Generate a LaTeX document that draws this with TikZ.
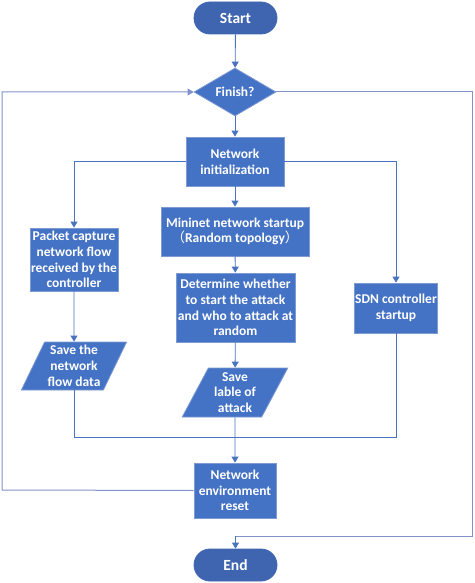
\documentclass[tikz,border=0pt]{standalone}
\usepackage{fontspec}
\setmainfont{Carlito}[BoldFont={Carlito Bold}]
\newfontfamily\cjk{Noto Sans CJK SC}
\usetikzlibrary{shapes.geometric,arrows.meta}
\definecolor{boxblue}{HTML}{4472C4}
\definecolor{pillblue}{HTML}{3F65B1}
\definecolor{edgeblue}{HTML}{7D9AD3}
\definecolor{lineblue}{HTML}{4A73BF}
\definecolor{loopblue}{HTML}{7F92CC}
\tikzset{
  base/.style={fill=boxblue, draw=edgeblue, line width=0.8pt, text=white,
    font=\bfseries\fontsize{13.5}{15.7}\selectfont, align=center, inner sep=1pt},
  procbox/.style={base, rectangle},
  pill/.style={base, fill=pillblue, draw=pillblue, rounded corners=16pt,
    minimum width=83, minimum height=32, font=\bfseries\fontsize{15.5}{17}\selectfont},
  decis/.style={base, diamond, aspect=1.7, minimum width=82, minimum height=48, inner sep=0pt},
  datab/.style={base, trapezium, trapezium left angle=63, trapezium right angle=117,
    trapezium stretches=true, inner sep=0pt},
  conn/.style={draw=lineblue, line width=0.9pt},
  arr/.style={conn, -{Triangle[length=6pt,width=7pt]}},
  loopline/.style={draw=loopblue, line width=1pt},
}
\begin{document}
\begin{tikzpicture}[x=1pt,y=-1pt]
\useasboundingbox (0,0) rectangle (474,583);
\node[pill] (start) at (235.5,18) {Start};
\node[decis] (finish) at (235,92) {Finish?};
\node[procbox, minimum width=98, minimum height=49] (ni) at (235,161.5) {Network\\initialization};
\node[procbox, minimum width=148, minimum height=49] (mn) at (235,231.5) {Mininet network startup\\{\cjk\mdseries （}Random topology{\cjk\mdseries ）}};
\node[procbox, minimum width=119, minimum height=69] (det) at (235.5,307.5) {Determine whether\\to start the attack\\and who to attack at\\random};
\node[datab, minimum width=106, minimum height=49] (sl) at (235,392.5) {Save\\lable of\\attack};
\node[procbox, minimum width=82, minimum height=63] (pc) at (74,259.5) {Packet capture\\network flow\\received by the\\controller};
\node[datab, minimum width=106, minimum height=48] (sf) at (74,366) {Save the\\network\\flow data};
\node[procbox, minimum width=82, minimum height=50] (sdn) at (396,308) {SDN controller\\startup};
\node[procbox, minimum width=82, minimum height=55] (ner) at (235,490.5) {Network\\environment\\reset};
\node[pill] (end) at (235.5,565) {End};
\coordinate (m) at (235,437);
\coordinate (ll) at (2,490);
\coordinate (lu) at (2,92);
\coordinate (ru) at (472.5,92);
\coordinate (rl) at (472.5,536);
\coordinate (el) at (235.5,536);

\draw[arr] (start) -- (finish);
\draw[arr] (finish) -- (ni);
\draw[arr] (ni) -- (mn);
\draw[arr] (mn) -- (det);
\draw[arr] (det) -- (sl);
\draw[arr] (ni.west) -| (pc.north);
\draw[arr] (ni.east) -| (sdn.north);
\draw[arr] (pc) -- (sf);
\draw[conn] (sf.south) -- (sf.south |- m) -- (sdn.south |- m) -- (sdn.south);
\draw[arr] (sl.south) -- (m) -- (ner.north);
\draw[loopline, -{Triangle[length=6pt,width=7pt]}] (ner.west) -- (ll) -- (lu) -- (finish.west);
\draw[loopline] (finish.east) -- (ru) -- (rl) -- (el);
\draw[arr] (el) -- (end.north);
\end{tikzpicture}
\end{document}
